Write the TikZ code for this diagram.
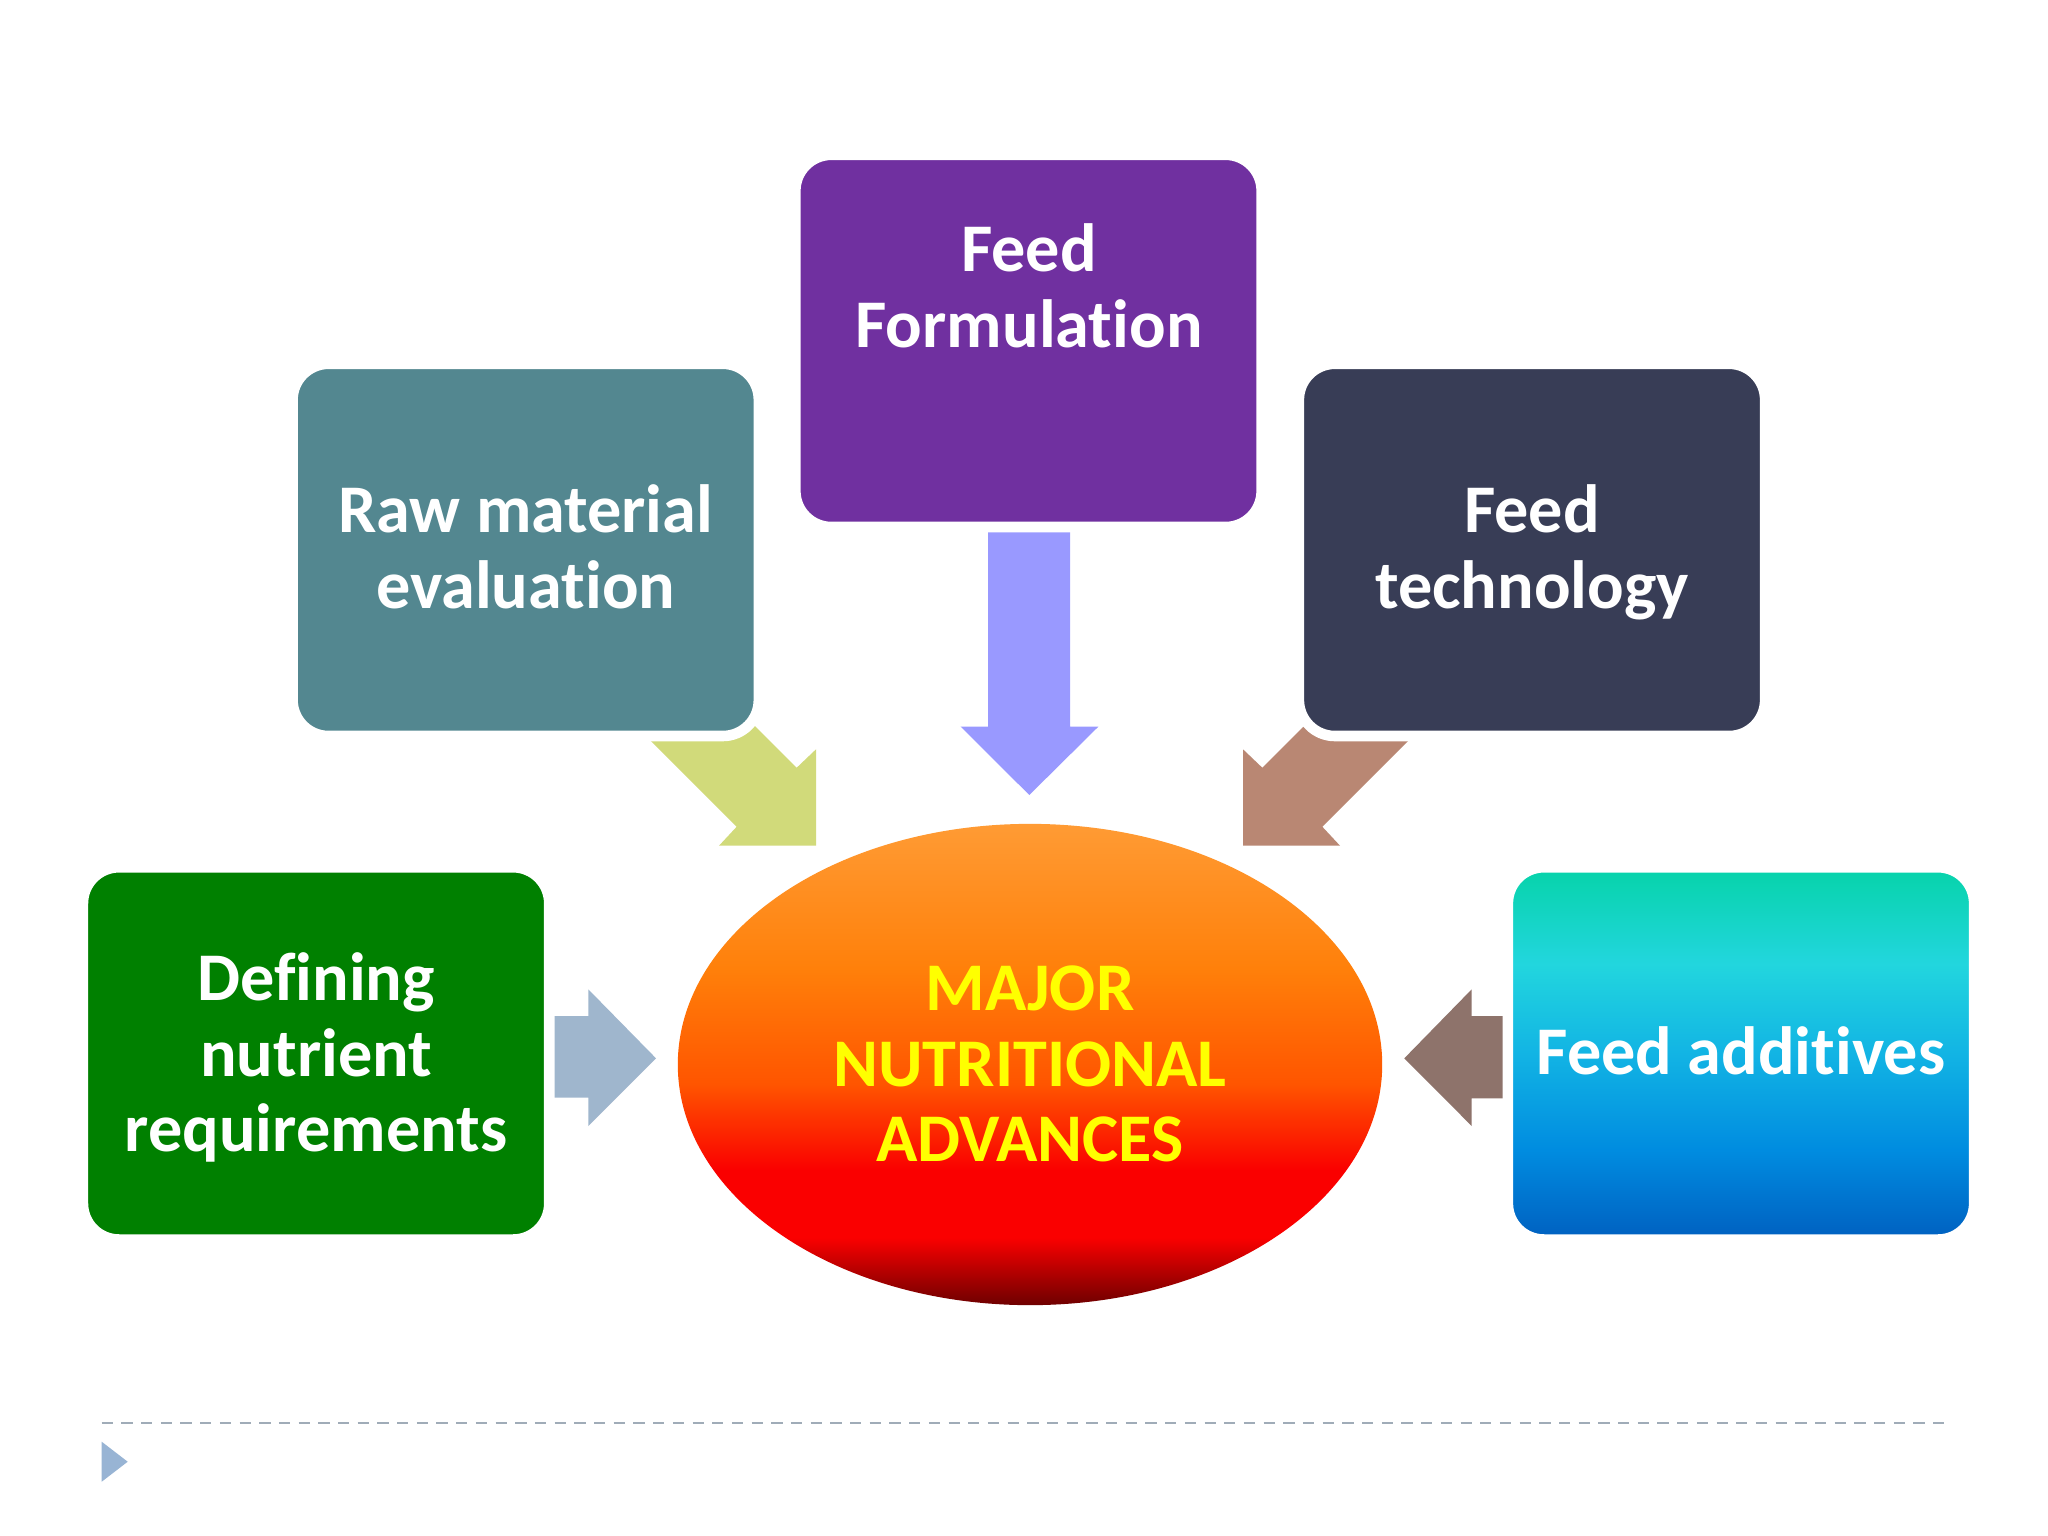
\documentclass[tikz,border=0pt]{standalone}
\usepackage{fontspec}
\setmainfont{Carlito}[Ligatures={NoCommon}]
\usetikzlibrary{shapes.geometric}
\definecolor{cpurple}{RGB}{112,48,160}
\definecolor{cteal}{RGB}{83,135,144}
\definecolor{cnavy}{RGB}{56,61,86}
\definecolor{cgreen}{RGB}{0,128,0}
\definecolor{arrgreen}{RGB}{209,218,122}
\definecolor{arrviolet}{RGB}{153,153,255}
\definecolor{arrbrown}{RGB}{185,135,115}
\definecolor{arrblue}{RGB}{159,182,205}
\definecolor{arrtaupe}{RGB}{142,115,107}
\definecolor{dashgray}{RGB}{160,172,184}
\definecolor{tri}{RGB}{152,180,212}
\definecolor{ellA}{RGB}{255,155,52}
\definecolor{ellB}{RGB}{255,128,10}
\definecolor{ellC}{RGB}{255,85,0}
\definecolor{ellD}{RGB}{250,0,0}
\definecolor{ellE}{RGB}{110,0,0}
\definecolor{faA}{RGB}{6,211,169}
\definecolor{faB}{RGB}{34,214,222}
\definecolor{faC}{RGB}{18,180,228}
\definecolor{faD}{RGB}{0,140,224}
\definecolor{faE}{RGB}{0,96,192}
\pgfdeclareverticalshading{ellshade}{100bp}{color(0bp)=(ellE); color(25bp)=(ellE); color(32bp)=(ellD); color(39bp)=(ellD); color(48bp)=(ellC); color(60bp)=(ellB); color(75bp)=(ellA); color(100bp)=(ellA)}
\pgfdeclareverticalshading{fashade}{100bp}{color(0bp)=(faE); color(25bp)=(faE); color(37bp)=(faD); color(50bp)=(faC); color(62bp)=(faB); color(75bp)=(faA); color(100bp)=(faA)}
\tikzset{
  box/.style={rectangle, rounded corners=0.36cm, draw=white, line width=3pt,
    minimum width=4.66cm, minimum height=3.72cm, inner sep=0pt},
  txt/.style={text=white, font=\fontsize{19.4}{21.5}\selectfont\bfseries, align=center, inner sep=0pt, anchor=north}
}
\begin{document}
\begin{tikzpicture}[x=0.01cm,y=-0.01cm]
\fill[white] (0,0) rectangle (2048,1536);
\useasboundingbox (0,0) rectangle (2048,1536);
% block arrows (drawn under the boxes)
\fill[arrgreen] (616.7,706.7) -- (736.7,707.7) -- (796.7,767.7) -- (816,749.3) -- (816,845.7) -- (719,845.7) -- (736.7,826.7) -- cycle;
\fill[arrbrown] (1442.3,706.7) -- (1322.3,707.7) -- (1262.3,767.7) -- (1243,749.3) -- (1243,845.7) -- (1340,845.7) -- (1322.3,826.7) -- cycle;
\fill[arrviolet] (988,520) -- (1070,520) -- (1070,726.7) -- (1098.3,726.7) -- (1029.3,795) -- (960.7,726.7) -- (988,726.7) -- cycle;
\fill[arrblue] (549,1016) -- (588.3,1016) -- (588.3,989.3) -- (656,1058.3) -- (588.3,1126) -- (588.3,1097.7) -- (549,1097.7) -- cycle;
\fill[arrtaupe] (1515,1016) -- (1471.7,1016) -- (1471.7,989.3) -- (1404.3,1058.3) -- (1471.7,1126) -- (1471.7,1098.3) -- (1515,1098.3) -- cycle;
% boxes
\node[box, fill=cpurple] (ff) at (1028.5,340.9) {};
\node[box, fill=cteal] (raw) at (525.7,549.9) {};
\node[box, fill=cnavy] (tech) at (1532,549.9) {};
\node[box, fill=cgreen] (def) at (316.1,1053.4) {};
\node[box, shading=fashade] (add) at (1741,1053.4) {};
% central ellipse
\node[ellipse, shading=ellshade, minimum width=7.04cm, minimum height=4.81cm, inner sep=0pt] (major) at (1030,1064.5) {};
% texts
\node[txt] (tff) at (1029,223) {Feed\\Formulation};
\node[txt] (traw) at (525.7,484) {Raw material\\evaluation};
\node[txt] (ttech) at (1532,484) {Feed\\technology};
\node[txt] (tdef) at (316.1,952) {Defining\\nutrient\\requirements};
\node[txt] (tadd) at (1741,1026) {Feed additives};
\node[txt, text={rgb,255:red,255;green,255;blue,0}] (tmajor) at (1030,965) {MAJOR\\NUTRITIONAL\\ADVANCES};
% footer
\draw[dashgray, line width=0.6pt, dash pattern=on 3.2pt off 2.4pt] (101.7,1422.7) -- (1946,1422.7);
\fill[tri] (101.7,1441.7) -- (127.7,1461.7) -- (101.7,1481.7) -- cycle;
\end{tikzpicture}
\end{document}
